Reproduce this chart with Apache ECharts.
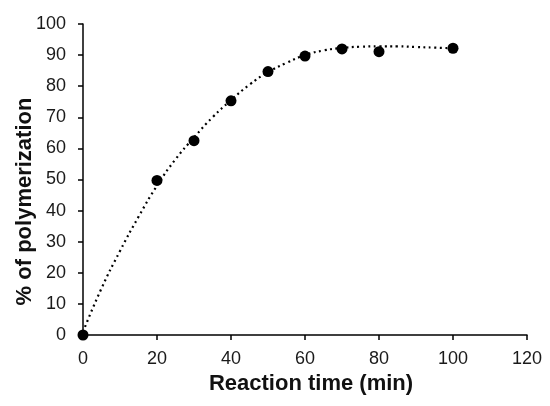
<!DOCTYPE html>
<html>
<head>
<meta charset="utf-8">
<script src="https://cdn.jsdelivr.net/npm/echarts@6/dist/echarts.min.js"></script>
<style>
  html, body { margin: 0; padding: 0; background: #fff; }
  #chart { width: 550px; height: 406px; }
</style>
</head>
<body>
<div id="chart"></div>
<script>
// measured points
var timeMin = [0, 20, 30, 40, 50, 60, 70, 80, 100];
var polymPct = [0, 49.7, 62.5, 75.3, 84.7, 89.7, 92, 91.1, 92.2];

// trend line every 5 min
var trendX = [0, 5, 10, 15, 20, 25, 30, 35, 40, 45, 50, 55, 60, 65, 70, 75, 80, 85, 90, 95, 100];
var trendY = [1, 15, 27, 38, 48, 56.5, 63.5, 70, 75.5, 80.5, 84.5, 87.5, 90, 91.5, 92.3, 92.7, 92.8, 92.8, 92.6, 92.4, 92.2];

var xTicks = [0, 20, 40, 60, 80, 100, 120];

var chart = echarts.init(document.getElementById('chart'));

var pts = [], trend = [];
for (var i = 0; i < timeMin.length; i++) pts.push([timeMin[i], polymPct[i]]);
for (var j = 0; j < trendX.length; j++) trend.push([trendX[j], trendY[j]]);

var fam = 'Liberation Sans, Arial, sans-serif';
var axisFont = { fontFamily: fam, fontSize: 18, color: '#1a1a1a' };
var nameFont = { fontFamily: fam, fontSize: 22, fontWeight: 'bold', color: '#111' };

var option = {
  animation: false,
  grid: { left: 83, right: 23, top: 24, bottom: 71, outerBoundsMode: 'none', containLabel: false },
  xAxis: {
    type: 'value',
    min: xTicks[0],
    max: xTicks[xTicks.length - 1],
    interval: 20,
    name: 'Reaction time (min)',
    nameLocation: 'middle',
    nameGap: 38,
    nameMoveOverlap: false,
    nameTextStyle: Object.assign({ padding: [0, 0, 0, 12] }, nameFont),
    axisLine: { lineStyle: { color: '#000', width: 1.5 } },
    axisTick: { show: true, inside: false, length: 5, lineStyle: { color: '#000', width: 1.5 } },
    axisLabel: Object.assign({ margin: 15 }, axisFont),
    splitLine: { show: false }
  },
  yAxis: {
    type: 'value',
    min: 0,
    max: 100,
    interval: 10,
    name: '% of polymerization',
    nameLocation: 'middle',
    nameGap: 47,
    nameMoveOverlap: false,
    nameTextStyle: Object.assign({ padding: [0, 44, 0, 0] }, nameFont),
    axisLine: { show: true, lineStyle: { color: '#000', width: 1.5 } },
    axisTick: { show: true, inside: false, length: 5, lineStyle: { color: '#000', width: 1.5 } },
    axisLabel: Object.assign({ margin: 17 }, axisFont),
    splitLine: { show: false }
  },
  series: [
    {
      type: 'line',
      data: trend,
      smooth: true,
      showSymbol: false,
      symbol: 'none',
      lineStyle: { color: '#000', width: 2.2, type: [2, 3.5] },
      z: 1
    },
    {
      type: 'scatter',
      data: pts,
      symbol: 'circle',
      symbolSize: 11,
      itemStyle: { color: '#000', opacity: 1 },
      z: 2
    }
  ]
};

chart.setOption(option);
window.onresize = function() { chart.resize(); };
</script>
</body>
</html>
